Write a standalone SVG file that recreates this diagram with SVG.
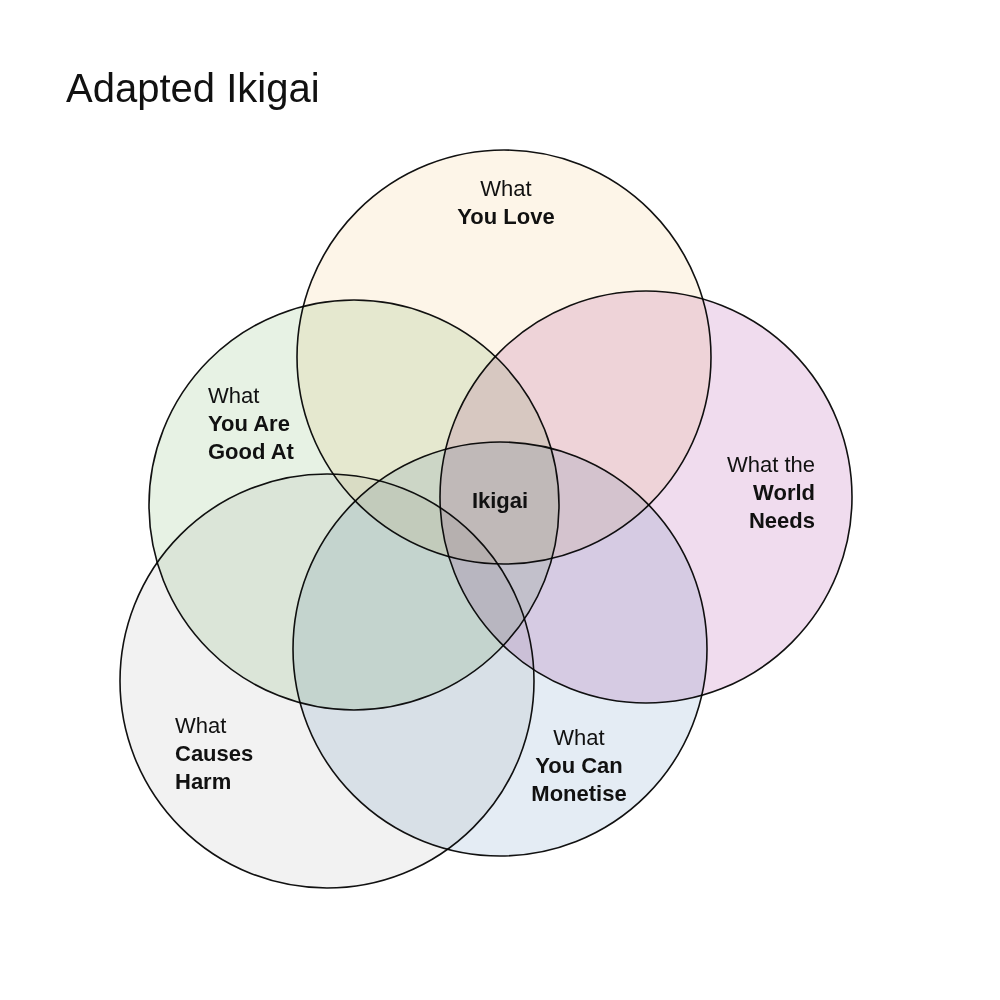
<svg xmlns="http://www.w3.org/2000/svg" width="1000" height="1000" viewBox="0 0 1000 1000">
<style>
.c{stroke:#111;stroke-width:1.6;mix-blend-mode:multiply}
text{font-family:"Liberation Sans",Arial,sans-serif;fill:#111}
.l{font-size:22px}
.b{font-size:22px;font-weight:bold}
</style>
<rect width="1000" height="1000" fill="#fff"/>
<text x="66" y="102" style="font-size:40px">Adapted Ikigai</text>
<g id="harm"><circle class="c" cx="327" cy="681" r="207" fill="#f2f2f2"/></g>
<g id="good"><circle class="c" cx="354" cy="505" r="205" fill="#e7f2e4"/></g>
<g id="love"><circle class="c" cx="504" cy="357" r="207" fill="#fdf5e8"/></g>
<g id="world"><circle class="c" cx="646" cy="497" r="206" fill="#f0dcee"/></g>
<g id="money"><circle class="c" cx="500" cy="649" r="207" fill="#e4ecf4"/></g>
<g id="labels">
<text class="l" x="506" y="196" text-anchor="middle">What</text>
<text class="b" x="506" y="224" text-anchor="middle">You Love</text>
<text class="l" x="208" y="403">What</text>
<text class="b" x="208" y="431">You Are</text>
<text class="b" x="208" y="459">Good At</text>
<text class="l" x="815" y="472" text-anchor="end">What the</text>
<text class="b" x="815" y="500" text-anchor="end">World</text>
<text class="b" x="815" y="528" text-anchor="end">Needs</text>
<text class="l" x="175" y="733">What</text>
<text class="b" x="175" y="761">Causes</text>
<text class="b" x="175" y="789">Harm</text>
<text class="l" x="579" y="745" text-anchor="middle">What</text>
<text class="b" x="579" y="773" text-anchor="middle">You Can</text>
<text class="b" x="579" y="801" text-anchor="middle">Monetise</text>
<text class="b" x="500" y="508" text-anchor="middle">Ikigai</text>
</g>
</svg>
